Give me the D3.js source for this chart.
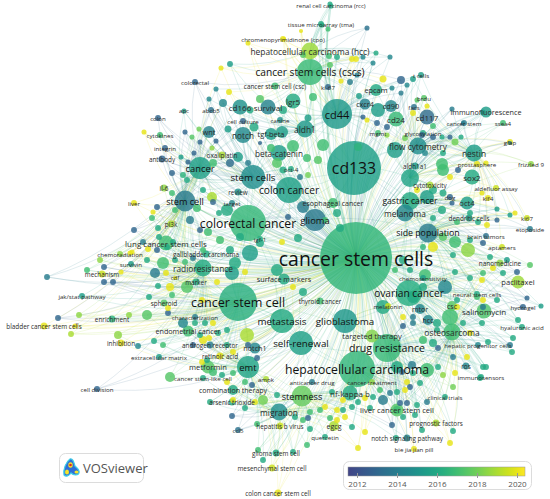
<!DOCTYPE html>
<html>
<head>
<meta charset="utf-8">
<script src="https://cdn.jsdelivr.net/npm/d3@7/dist/d3.min.js"></script>
<style>
  body { margin: 0; background: #fff; }
  svg { display: block; }
</style>
</head>
<body>
<div id="chart"></div>
<script>
var width = 550, height = 499;

// labelled terms: [term, mapX, mapY, occurrences, avg. pub. year]
var termsMain = [
  ["cancer stem cells", 356, 258, 1800, 2016.6],
  ["cd133", 354, 168, 1013, 2015.6],
  ["cd44", 337, 114, 312, 2015.3],
  ["cancer stem cell", 238, 302, 501, 2016.3],
  ["colorectal cancer", 248, 223, 450, 2016.7],
  ["hepatocellular carcinoma", 357, 369, 450, 2016.6],
  ["cancer stem cells (cscs)", 310, 72, 235, 2016.8],
  ["colon cancer", 289, 190, 235, 2015.6],
  ["ovarian cancer", 409, 293, 235, 2016.2],
  ["drug resistance", 387, 348, 272, 2016.8],
  ["stem cells", 253, 177, 200, 2014.8],
  ["metastasis", 282, 321, 200, 2016],
  ["glioblastoma", 345, 321, 200, 2015.2],
  ["self-renewal", 301, 343, 200, 2015.6],
  ["cancer", 200, 168, 168, 2015.6],
  ["glioma", 315, 220, 168, 2013.8],
  ["emt", 248, 367, 168, 2015.8],
  ["stem cell", 185, 201, 150, 2013.9],
  ["stemness", 302, 396, 150, 2017.8],
  ["side population", 428, 233, 125, 2014],
  ["gastric cancer", 410, 201, 112, 2016]
];

var termsTop = [
  ["hepatocellular carcinoma (hcc)", 310, 51, 100, 2018.8],
  ["cancer stem cell (csc)", 275, 86, 17, 2017],
  ["chromenopyrimidinone (cpo)", 283, 39, 12, 2020],
  ["tissue microarray (tma)", 321, 24, 12, 2016],
  ["renal cell carcinoma (rcc)", 331, 6, 9, 2016],
  ["colorectal", 195, 82, 12, 2013],
  ["cd166", 240, 107, 78, 2015],
  ["survival", 268, 107, 78, 2014.2],
  ["apc", 184, 111, 9, 2015.5],
  ["abcb5", 211, 110, 12, 2013.5],
  ["colon", 158, 118, 12, 2013],
  ["cell culture", 243, 121, 12, 2013],
  ["canine", 280, 120, 12, 2015],
  ["cytokines", 160, 135, 12, 2017],
  ["wnt", 209, 132, 50, 2014.2],
  ["notch", 243, 135, 89, 2014.6],
  ["tgf-beta", 271, 134, 50, 2015.5],
  ["integrin", 165, 148, 12, 2013],
  ["oxaliplatin", 222, 155, 17, 2019],
  ["antibody", 162, 159, 17, 2013],
  ["beta-catenin", 279, 153, 89, 2015.5],
  ["t cells", 421, 75, 12, 2015.5],
  ["ki-67", 328, 87, 12, 2013],
  ["epcam", 376, 90, 50, 2016],
  ["lgr5", 293, 101, 78, 2016],
  ["cxcr4", 365, 104, 42, 2014.3],
  ["cd90", 391, 106, 50, 2014.5],
  ["facs", 414, 107, 12, 2013.5],
  ["brdu", 424, 98, 12, 2017.5],
  ["cd24", 396, 119, 78, 2016.8],
  ["cd117", 427, 117, 78, 2013.2],
  ["immunofluorescence", 486, 112, 42, 2015.5],
  ["cancer stem", 464, 123, 12, 2014],
  ["ssea4", 503, 123, 12, 2017],
  ["aldh1", 305, 129, 100, 2015.3],
  ["mgmt", 378, 133, 12, 2017],
  ["glycosylation", 423, 133, 12, 2016],
  ["flow cytometry", 418, 146, 100, 2014.8],
  ["gfap", 510, 142, 12, 2020],
  ["nestin", 474, 153, 100, 2015.5],
  ["prostasphere", 477, 164, 12, 2020],
  ["frizzled 9", 531, 164, 12, 2018.5],
  ["aldh1a1", 415, 166, 17, 2015.5],
  ["oct-4", 291, 169, 12, 2016]
];

var termsLeft = [
  ["il-6", 164, 188, 17, 2018.5],
  ["review", 238, 192, 17, 2015],
  ["target", 232, 203, 12, 2014.5],
  ["esophageal cancer", 333, 203, 35, 2017],
  ["pi3k", 171, 224, 17, 2019],
  ["liver", 134, 203, 12, 2020],
  ["igf-1", 260, 239, 12, 2016],
  ["lung cancer stem cells", 166, 243, 78, 2017],
  ["chemoradiation", 120, 254, 12, 2018.5],
  ["gallbladder carcinoma", 206, 254, 17, 2016],
  ["survivin", 131, 264, 12, 2015.5],
  ["radioresistance", 203, 268, 100, 2016],
  ["mechanism", 102, 274, 17, 2019.5],
  ["cdf", 175, 278, 6, 2020],
  ["marker", 196, 282, 17, 2016],
  ["surface markers", 284, 279, 42, 2016],
  ["jak/stat pathway", 82, 296, 12, 2015.5],
  ["spheroid", 164, 303, 17, 2017.5],
  ["thyroid cancer", 320, 301, 17, 2017],
  ["characterization", 195, 317, 12, 2014],
  ["enrichment", 112, 319, 17, 2016.5],
  ["bladder cancer stem cells", 44, 326, 17, 2020],
  ["endometrial cancer", 188, 331, 42, 2017],
  ["androgen receptor", 210, 345, 17, 2014],
  ["notch1", 255, 348, 42, 2014.5],
  ["inhibition", 121, 343, 17, 2020],
  ["extracellular matrix", 159, 357, 12, 2015.5],
  ["retinoic acid", 220, 356, 17, 2020],
  ["metformin", 208, 367, 59, 2017.5],
  ["cancer stem-like cell", 203, 378, 12, 2016],
  ["cell division", 97, 389, 12, 2013]
];

var termsBottom = [
  ["targeted therapy", 372, 336, 59, 2018.3],
  ["ampk", 266, 379, 12, 2019],
  ["combination therapy", 233, 390, 35, 2016],
  ["anticancer drug", 312, 382, 12, 2014],
  ["cancer treatment", 372, 382, 12, 2018.5],
  ["arsenic trioxide", 232, 402, 17, 2016],
  ["nf-kappa b", 350, 393, 78, 2016],
  ["migration", 279, 412, 100, 2014.8],
  ["liver cancer stem cell", 397, 410, 59, 2017.5],
  ["ccl5", 238, 430, 12, 2013.5],
  ["hepatitis b virus", 280, 426, 17, 2019.5],
  ["egcg", 334, 426, 35, 2019],
  ["quercetin", 325, 437, 12, 2016],
  ["notch signaling pathway", 407, 438, 17, 2014.5],
  ["prognostic factors", 436, 423, 17, 2019],
  ["bie jia jian pill", 414, 449, 12, 2020],
  ["glioma stem cell", 276, 453, 17, 2016],
  ["mesenchymal stem cell", 272, 468, 17, 2019.5],
  ["colon cancer stem cell", 278, 493, 17, 2020],
  ["clinical trials", 445, 397, 12, 2016],
  ["osteosarcoma", 452, 332, 100, 2017],
  ["hepatic progenitor cells", 478, 345, 12, 2014.5],
  ["ros", 466, 366, 17, 2014.5],
  ["immunosensors", 481, 377, 12, 2016],
  ["hyaluronic acid", 522, 327, 12, 2016]
];

var termsRight = [
  ["sox2", 472, 177, 78, 2016],
  ["cytotoxicity", 430, 185, 17, 2019],
  ["aldefluor assay", 496, 188, 12, 2019.5],
  ["dog", 450, 197, 12, 2013],
  ["klf4", 488, 198, 12, 2020],
  ["oct4", 467, 203, 59, 2015.5],
  ["melanoma", 405, 213, 100, 2014.5],
  ["dendritic cells", 469, 218, 17, 2015.5],
  ["ki67", 527, 218, 12, 2019.5],
  ["etoposide", 530, 229, 12, 2014],
  ["brain tumors", 486, 236, 12, 2013.5],
  ["aptamers", 502, 247, 12, 2019.5],
  ["nanomedicine", 500, 263, 17, 2018.5],
  ["chemosensitivity", 423, 278, 12, 2015.5],
  ["paclitaxel", 518, 282, 59, 2018.8],
  ["neural stem cells", 477, 294, 12, 2016],
  ["melatonin", 388, 306, 12, 2019.5],
  ["mtor", 420, 309, 35, 2014.5],
  ["csc", 452, 306, 35, 2017.5],
  ["salinomycin", 484, 311, 78, 2017.3],
  ["hydrogel", 523, 307, 12, 2013],
  ["hcc", 428, 320, 35, 2014.5]
];

// terms drawn without a label: [mapX, mapY, occurrences, avg. pub. year]
var dotsUpper = [
  [230,64,12,2015.5],[221,68,9,2020],[229,92,12,2020],[216,89,9,2014.5],[209,99,9,2014.5],[223,103,22,2014.5],
  [260,99,22,2017.5],[250,110,17,2016],[144,132,9,2020],[185,132,9,2013],[199,129,9,2018],[192,137,9,2017.5],
  [200,142,9,2013],[216,141,9,2013],[228,129,17,2015.5],[254,127,28,2016],[212,148,9,2018.5],[194,153,9,2013],
  [181,157,9,2015.5],[230,163,22,2013.2],[238,157,35,2015.5],[213,163,22,2017],[188,162,9,2013],[248,163,12,2014],
  [260,143,6,2013],[271,148,22,2017],[277,163,35,2017.5],
  [330,4,9,2016],[367,28,9,2013.5],[301,31,6,2020],[322,25,9,2016],[328,29,9,2017],[284,39,6,2020],[248,43,9,2020],
  [303,55,12,2017.5],[329,56,12,2017],[337,57,12,2016],[352,59,12,2020],[356,59,12,2020],[363,57,9,2014.5],
  [376,53,9,2016],[390,57,9,2014.5],[373,63,9,2014.5],[330,65,12,2017.5],[350,82,12,2014],[341,81,9,2020],
  [357,75,9,2014],[383,79,17,2020],[401,80,22,2013],[413,79,12,2015.5],[407,85,9,2014.5],[401,93,9,2014],
  [392,88,9,2014.5],[359,96,12,2015.5],[378,110,68,2015.5],[363,117,9,2013],[367,120,9,2020],[377,123,12,2013],
  [387,127,12,2013],[413,113,12,2020],[427,106,9,2020],[417,100,9,2017.5],[422,135,12,2013],[405,138,12,2018],
  [387,135,9,2018.5],[433,126,12,2017],[433,137,12,2013],[442,137,9,2016],[450,137,9,2013],[461,137,9,2016],
  [455,142,17,2018],[452,109,9,2014],[463,123,6,2014],[483,112,9,2015.5],[510,143,6,2014],[443,153,12,2016],
  [425,153,12,2014.5],[395,150,89,2015.5],[358,147,22,2016.5],[323,145,50,2017],[308,118,17,2015.5],
  [293,146,50,2017],[282,132,50,2015.5],[283,110,22,2016],[313,97,22,2017],[307,158,22,2017],[318,160,22,2017.5],
  [442,164,50,2017],[486,163,9,2020]
];

var dotsRight = [
  [410,178,112,2015.8],[443,170,50,2017],[433,190,22,2016],[427,197,68,2015.5],[443,193,17,2016],[417,190,12,2020],
  [450,177,12,2020],[458,170,12,2013],[482,193,9,2020],[452,203,9,2013],[442,210,22,2016],[470,213,12,2016],
  [433,218,12,2016],[457,222,12,2017],[478,222,12,2016],[487,225,12,2020],[497,209,9,2015.5],[510,215,9,2015.5],
  [515,213,9,2020],[497,220,9,2013],[470,240,12,2016],[455,242,50,2017],[468,250,68,2018.5],[443,237,22,2017.5],
  [433,247,35,2020],[423,247,12,2016.5],[453,255,12,2016],[483,243,12,2013],[490,257,12,2016],[507,260,12,2015.5],
  [517,272,12,2013],[530,265,12,2017.5],[503,273,12,2016],[493,268,12,2020],[483,273,12,2017],[482,280,12,2020],
  [470,278,12,2016],[455,272,12,2016],[445,287,68,2014.5],[457,300,12,2016],[477,297,12,2017],[483,300,12,2020],
  [497,300,12,2016],[527,298,9,2013],[541,306,9,2015.5],[403,260,22,2016],[395,270,12,2017],[410,270,12,2016],
  [425,275,50,2017],[403,317,12,2020],[413,317,12,2014],[383,307,68,2016],[437,323,22,2016],[450,317,89,2017],
  [483,307,12,2014],[457,307,12,2020],[518,320,12,2016],[283,170,17,2016],[300,177,12,2014],[308,175,12,2018],
  [303,207,50,2014],[337,213,22,2016],[325,220,12,2017],[288,217,12,2013],[340,228,22,2016],[282,242,12,2020],
  [298,238,22,2016],[293,287,12,2020],[303,292,22,2016],[277,270,50,2016],[413,297,50,2016],[423,287,22,2016]
];

var dotsLeft = [
  [157,207,12,2013],[153,212,9,2020],[152,218,12,2017],[158,228,12,2016],[175,210,12,2017],[172,193,12,2017],
  [197,208,22,2017],[212,197,35,2019],[203,190,12,2016],[187,180,12,2016],[183,175,12,2016.5],[172,173,12,2013],
  [213,202,12,2013],[219,213,12,2016],[227,210,50,2016],[190,220,22,2014],[200,230,12,2013],[208,232,22,2017],
  [134,230,12,2013],[159,237,12,2016],[148,249,12,2020],[157,250,12,2013],[143,242,12,2014],[167,247,12,2016],
  [173,242,12,2016],[147,260,12,2016],[163,263,50,2017],[155,273,35,2014],[166,273,12,2020],[175,260,12,2016],
  [185,262,12,2017],[193,258,12,2014],[203,250,12,2017],[187,287,50,2017.5],[170,287,22,2020],[158,286,12,2016],
  [172,295,12,2017],[149,297,12,2016],[147,315,35,2017.5],[168,313,12,2013],[168,308,12,2020],[183,323,35,2014.5],
  [195,323,12,2016],[205,323,12,2016],[213,323,12,2020],[202,300,12,2020],[217,282,12,2020],[232,273,68,2015.5],
  [235,263,50,2016],[230,250,22,2016],[245,272,12,2020],[250,253,89,2015.5],[260,243,22,2016],[240,237,22,2016],
  [220,240,22,2017],[132,252,9,2020],[100,260,12,2018.5],[104,267,12,2013],[87,270,12,2017],[47,277,12,2014],
  [104,282,12,2013],[113,282,12,2013],[121,272,9,2020],[130,253,9,2020],[58,318,12,2013],[79,315,12,2018.5],
  [129,315,12,2018.5],[71,334,12,2019],[75,326,9,2020]
];

var dotsLower = [
  [118,335,22,2018.5],[138,346,12,2014.5],[154,341,12,2016],[163,345,12,2017],[170,377,35,2017.5],[200,335,12,2016],
  [209,338,12,2020],[218,333,12,2016],[227,330,12,2016],[203,340,22,2020],[193,345,12,2013],[227,345,12,2016],
  [233,352,12,2020],[247,335,68,2019],[248,345,12,2013],[257,358,12,2013],[202,362,12,2020],[207,360,12,2016],
  [213,372,22,2017],[222,375,12,2016],[227,382,12,2020],[233,373,12,2017],[245,382,12,2017],[252,385,12,2013],
  [263,400,35,2018],[277,395,12,2016],[210,402,12,2016],[233,400,12,2020],[245,408,12,2016],[255,402,12,2020],
  [232,416,12,2013],[257,424,12,2017],[258,450,12,2017],[263,460,12,2016],
  [403,326,12,2013],[413,323,12,2014],[482,323,12,2016],[463,323,12,2016],[437,330,12,2016],[470,333,12,2020],
  [433,343,22,2016],[423,340,22,2017],[438,348,12,2013],[453,357,12,2014],[467,357,12,2020],[483,367,12,2016],
  [480,378,12,2016],[455,373,12,2020],[443,375,12,2018.5],[453,387,12,2018],[413,373,12,2016],[427,370,68,2017],
  [412,365,22,2014],[402,372,12,2013],[407,382,12,2020],[397,367,50,2016],[420,383,12,2016],[410,387,12,2013],
  [405,390,12,2020],[397,392,12,2016],[390,393,12,2014],[383,400,35,2014],[373,397,12,2016],[380,390,12,2017],
  [365,398,12,2020],[358,402,12,2016],[352,407,12,2016],[343,410,12,2016],[337,410,12,2020],[343,400,12,2020],
  [332,392,12,2016],[325,407,12,2020],[320,410,12,2017],[310,412,12,2017],[303,420,12,2017],[308,418,12,2013],
  [295,417,12,2016],[330,418,12,2017],[345,417,12,2020],[352,427,12,2016],[337,420,12,2020],[370,408,12,2016],
  [397,410,22,2017],[417,405,12,2016],[427,402,12,2014],[400,403,12,2013],[407,403,12,2013],[403,417,12,2016],
  [415,415,12,2016],[392,425,12,2013],[422,430,12,2016],[453,431,12,2016],[450,443,12,2020],[358,448,12,2020],
  [365,432,12,2020],[396,438,12,2016],[307,445,12,2017],[310,429,12,2016],[293,452,12,2016],[486,367,12,2016],
  [488,342,12,2016],[510,345,12,2014],[513,338,12,2016],[512,352,12,2016],[438,367,12,2016]
];

var legendTicks = [2012, 2014, 2016, 2018, 2020];
var yearRange = [2011.55, 2020.4];

var svg = d3.select("#chart")
  .append("svg")
  .attr("width", width)
  .attr("height", height)
  .style("font-family", "'Open Sans', sans-serif");

var xScale = d3.scaleLinear().domain([0, 550]).range([0, width]);
var yScale = d3.scaleLinear().domain([0, 499]).range([0, height]);
var rScale = d3.scaleSqrt().domain([0, 1800]).range([0, 36]);
var fontScale = d3.scaleLinear().domain([0, 36]).range([5, 19.4]);
var tScale = d3.scaleLinear().domain(yearRange).range([0.2, 1]).clamp(true);

function colorOf(year) {
  return d3.interpolateViridis(tScale(year));
}

var terms = termsMain.concat(termsTop, termsLeft, termsBottom, termsRight).map(function(d) {
  return { label: d[0], x: xScale(d[1]), y: yScale(d[2]), occ: d[3], year: d[4] };
});
var dots = dotsUpper.concat(dotsRight, dotsLeft, dotsLower).map(function(d) {
  return { label: null, x: xScale(d[0]), y: yScale(d[1]), occ: d[2], year: d[3] };
});
var nodes = terms.concat(dots);

// links: every term co-occurs with the search term, plus its nearest bigger terms
var hub = nodes[0];
var majors = nodes.filter(function(d) { return d.occ >= 100; });
function dist(a, b) { return Math.hypot(a.x - b.x, a.y - b.y); }

var links = [];
nodes.forEach(function(d) {
  if (d !== hub) links.push({ s: d, t: hub });
  majors.filter(function(m) { return m !== d && m !== hub && m.occ > d.occ; })
    .sort(function(a, b) { return dist(a, d) - dist(b, d); })
    .slice(0, 3)
    .forEach(function(m) { links.push({ s: d, t: m }); });
});

function curve(l) {
  var x1 = l.s.x, y1 = l.s.y, x2 = l.t.x, y2 = l.t.y;
  var mx = (x1 + x2) / 2, my = (y1 + y2) / 2;
  var dx = x2 - x1, dy = y2 - y1;
  var cx = mx - dy * 0.12, cy = my + dx * 0.12;
  return "M" + x1 + "," + y1 + "Q" + cx + "," + cy + " " + x2 + "," + y2;
}

svg.append("g")
  .attr("class", "links")
  .selectAll("path")
  .data(links)
  .enter().append("path")
  .attr("d", curve)
  .attr("fill", "none")
  .attr("stroke", function(l) { return colorOf(l.s.year); })
  .attr("stroke-opacity", 0.2)
  .attr("stroke-width", 0.7);

var sorted = nodes.slice().sort(function(a, b) { return b.occ - a.occ; });

svg.append("g")
  .attr("class", "nodes")
  .selectAll("circle")
  .data(sorted)
  .enter().append("circle")
  .attr("cx", function(d) { return d.x; })
  .attr("cy", function(d) { return d.y; })
  .attr("r", function(d) { return rScale(d.occ); })
  .attr("fill", function(d) { return colorOf(d.year); })
  .attr("fill-opacity", 0.82);

svg.append("g")
  .attr("class", "labels")
  .selectAll("text")
  .data(terms.slice().sort(function(a, b) { return a.occ - b.occ; }))
  .enter().append("text")
  .attr("x", function(d) { return d.x; })
  .attr("y", function(d) { return d.y; })
  .attr("text-anchor", "middle")
  .attr("dominant-baseline", "central")
  .style("font-size", function(d) { return fontScale(rScale(d.occ)) + "px"; })
  .style("fill", function(d) { return d.occ > 100 ? "#111" : "#2b2b2b"; })
  .text(function(d) { return d.label; });

// VOSviewer logo
var logo = svg.append("g").attr("class", "logo");
logo.append("rect")
  .attr("x", 59.5).attr("y", 453.5).attr("width", 84).attr("height", 29)
  .attr("rx", 6)
  .attr("fill", "#fff")
  .attr("stroke", "#dcdcdc");
logo.append("path")
  .attr("d", "M64,475 C63,469 66,462 70,459 C73,458 74,463 75,466 C77,468 80,470 79,473 C78,476 73,475 71,473 C69,476 66,477 64,475Z")
  .attr("fill", "#2f6fd6")
  .attr("stroke", "#3fd0e8")
  .attr("stroke-width", 1.2);
logo.append("ellipse").attr("cx", 67).attr("cy", 472).attr("rx", 2).attr("ry", 2.5).attr("fill", "#f5e52a");
logo.append("ellipse").attr("cx", 76.5).attr("cy", 472).attr("rx", 2).attr("ry", 1.6).attr("fill", "#f5e52a");
logo.append("ellipse").attr("cx", 70.5).attr("cy", 465).attr("rx", 2.2).attr("ry", 2.8).attr("fill", "#f5e52a");
logo.append("circle").attr("cx", 70.5).attr("cy", 465).attr("r", 1.3).attr("fill", "#e0282a");
logo.append("text")
  .attr("x", 83).attr("y", 468)
  .attr("dominant-baseline", "central")
  .style("font-size", "13px")
  .style("fill", "#555")
  .text("VOSviewer");

// year legend
var legendX = d3.scaleLinear().domain(yearRange).range([348, 525]);
var legend = svg.append("g").attr("class", "legend");
legend.append("rect")
  .attr("x", 343.5).attr("y", 461.5).attr("width", 188).attr("height", 28)
  .attr("rx", 6)
  .attr("fill", "#fff")
  .attr("fill-opacity", 0.9)
  .attr("stroke", "#dcdcdc");

var grad = svg.append("defs").append("linearGradient")
  .attr("id", "yearGrad")
  .attr("x1", "0%").attr("x2", "100%").attr("y1", "0%").attr("y2", "0%");
d3.range(0, 1.0001, 0.05).forEach(function(p) {
  var yr = yearRange[0] + p * (yearRange[1] - yearRange[0]);
  grad.append("stop").attr("offset", (p * 100) + "%").attr("stop-color", colorOf(yr));
});

legend.append("rect")
  .attr("x", legendX.range()[0]).attr("y", 467)
  .attr("width", legendX.range()[1] - legendX.range()[0]).attr("height", 9)
  .attr("fill", "url(#yearGrad)")
  .attr("stroke", "#999")
  .attr("stroke-width", 0.5);

var axis = d3.axisBottom(legendX).tickValues(legendTicks).tickSize(3).tickFormat(d3.format("d"));
var axisG = legend.append("g")
  .attr("transform", "translate(0,476)")
  .call(axis);
axisG.select(".domain").remove();
axisG.selectAll(".tick line").attr("stroke", "#999").attr("y1", -3).attr("y2", 2);
axisG.selectAll(".tick text")
  .attr("y", 5)
  .attr("dy", "0.71em")
  .style("font-family", "'Open Sans', sans-serif")
  .style("font-size", "8px")
  .style("fill", "#555");
</script>
</body>
</html>
